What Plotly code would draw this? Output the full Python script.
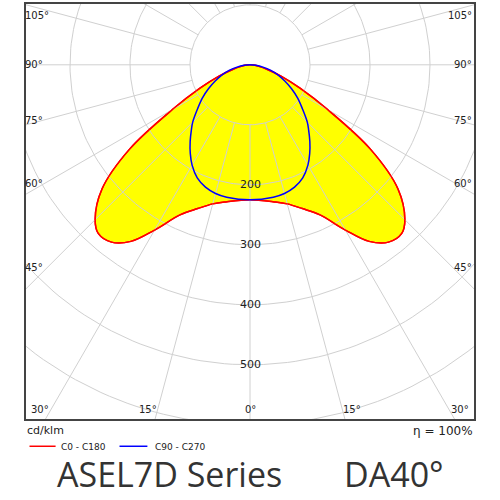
import numpy as np
import plotly.graph_objects as go

# gamma angles (deg) and intensities (cd/klm)
gamma = [0, 10, 15, 20, 25, 30, 34, 38, 42, 45, 50, 55, 60, 65, 70, 75, 80, 85, 90]
c0_c180 = [225, 232, 240, 255, 276, 318, 355, 375, 378, 365, 322, 245, 150, 92, 55, 30, 15, 6, 0]
c90_c270 = [225, 224, 222, 217, 208, 193, 178, 162, 146, 135, 114, 97, 80, 64, 50, 36, 22, 10, 0]

rings = [100, 200, 300, 400, 500, 600, 700]
ring_labels = [200, 300, 400, 500]
spokes = list(range(0, 360, 15))

# angle labels placed at box edge: (text, x, y in data units)
edge_labels = [("105°", -355, 82), ("90°", -360, 0), ("75°", -360, -92),
               ("60°", -360, -197), ("45°", -360, -338), ("30°", -350, -575),
               ("15°", -170, -575), ("0°", 0, -575), ("15°", 170, -575),
               ("30°", 350, -575), ("45°", 355, -338), ("60°", 355, -197),
               ("75°", 355, -92), ("90°", 355, 0), ("105°", 350, 82)]


def curve(g, r):
    # mirror the half-curve to both sides, 0° points down
    g = np.radians(np.array(g, dtype=float))
    r = np.array(r, dtype=float)
    ga = np.concatenate([-g[::-1], g[1:]])
    ra = np.concatenate([r[::-1], r[1:]])
    return ra * np.sin(ga), -ra * np.cos(ga)


fig = go.Figure()

x0, y0 = curve(gamma, c0_c180)
fig.add_trace(go.Scatter(x=x0, y=y0, mode="lines", fill="toself", fillcolor="#ffff00",
                         line=dict(color="#ff0000", width=1.5, shape="spline")))

grid = dict(color="#d0d0d0", width=1)
t = np.linspace(0, 2 * np.pi, 240)
for r in rings:
    fig.add_trace(go.Scatter(x=r * np.cos(t), y=r * np.sin(t), mode="lines", line=grid))
for a in spokes:
    ar = np.radians(a)
    fig.add_trace(go.Scatter(x=[100 * np.sin(ar), 900 * np.sin(ar)],
                             y=[-100 * np.cos(ar), -900 * np.cos(ar)], mode="lines", line=grid))

fig.add_trace(go.Scatter(x=x0, y=y0, mode="lines",
                         line=dict(color="#ff0000", width=1.5, shape="spline")))
x1, y1 = curve(gamma, c90_c270)
fig.add_trace(go.Scatter(x=x1, y=y1, mode="lines",
                         line=dict(color="#0000ff", width=1.5, shape="spline")))

for r in ring_labels:
    fig.add_annotation(x=0, y=-r, text=str(r), showarrow=False,
                       font=dict(size=11, color="#222"))
for txt, x, y in edge_labels:
    fig.add_annotation(x=x, y=y, text=txt, showarrow=False, font=dict(size=10, color="#222"))

fig.add_annotation(xref="paper", yref="paper", x=0.0, y=-0.026, xanchor="left", yanchor="middle",
                   text="cd/klm", showarrow=False, font=dict(size=11, color="#222"))
fig.add_annotation(xref="paper", yref="paper", x=1.0, y=-0.026, xanchor="right", yanchor="middle",
                   text="η = 100%", showarrow=False, font=dict(size=12, color="#222"))
fig.add_annotation(xref="paper", yref="paper", x=0.075, y=-0.064, xanchor="left", yanchor="middle",
                   text="C0 - C180", showarrow=False, font=dict(size=9, color="#222"))
fig.add_annotation(xref="paper", yref="paper", x=0.285, y=-0.064, xanchor="left", yanchor="middle",
                   text="C90 - C270", showarrow=False, font=dict(size=9, color="#222"))
fig.add_annotation(xref="paper", yref="paper", x=0.5, y=-0.13, xanchor="center", yanchor="middle",
                   text="ASEL7D Series&nbsp;&nbsp;&nbsp;&nbsp;&nbsp;&nbsp;&nbsp;DA40°", showarrow=False,
                   font=dict(size=34, color="#333", family="Open Sans"))
fig.add_shape(type="line", xref="paper", yref="paper", x0=0.01, x1=0.068, y0=-0.063, y1=-0.063,
              line=dict(color="#ff0000", width=1.5))
fig.add_shape(type="line", xref="paper", yref="paper", x0=0.21, x1=0.272, y0=-0.063, y1=-0.063,
              line=dict(color="#0000ff", width=1.5))
fig.add_shape(type="rect", xref="paper", yref="paper", x0=0, x1=1, y0=0, y1=1,
              line=dict(color="#444", width=2))

fig.update_xaxes(range=[-375, 375], visible=False)
fig.update_yaxes(range=[-592, 103], visible=False)
fig.update_layout(width=500, height=500, showlegend=False,
                  margin=dict(l=25, r=25, t=3, b=80),
                  plot_bgcolor="white", paper_bgcolor="white",
                  font=dict(family="DejaVu Sans"))
fig.write_html("out.html", config={"displayModeBar": False},
               post_script="document.body.style.margin='0';")
